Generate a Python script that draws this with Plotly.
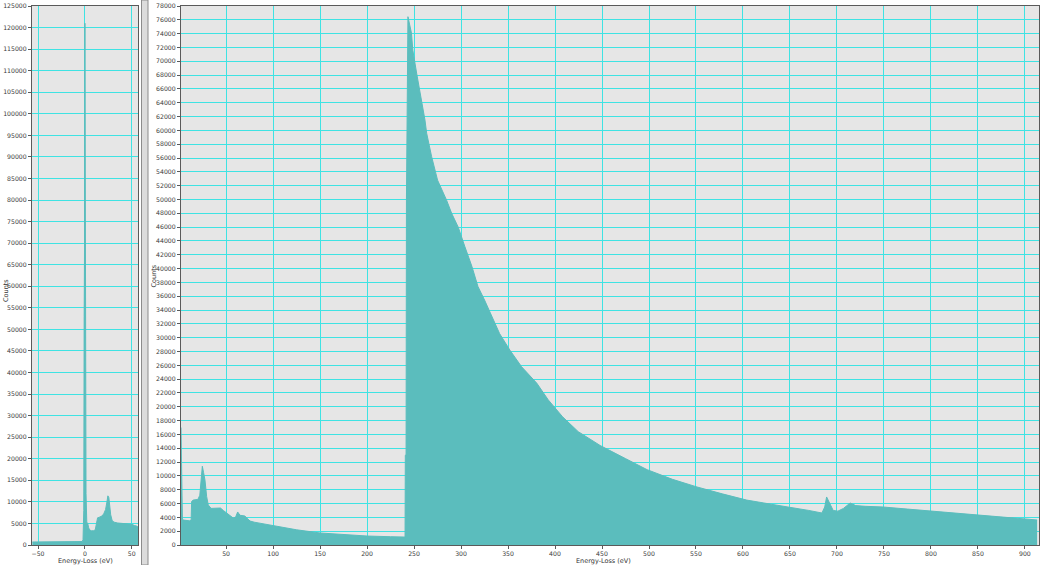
import plotly.graph_objects as go

# ---------------- data ----------------
# Low-loss spectrum (left panel)
low_energy = [-56, -50, -40, -30, -20, -10, -5, -3, -2, -1.2, -0.8, -0.4, 0, 0.4, 0.8, 1.2,
              2, 3, 4, 5, 7, 9, 11, 12.5, 13.5, 15, 18, 20, 22, 23.5, 24.5, 25.5, 26.5,
              27.5, 29, 31, 35, 40, 45, 50, 53, 55, 57]
low_counts = [700, 700, 700, 700, 700, 720, 750, 800, 1200, 8000, 53000, 69000, 121000, 69000, 53000, 12000,
              5300, 5000, 4000, 3500, 3300, 3300, 3500, 5600, 6300, 6400, 6700, 7200, 8200, 10000, 11400, 11000, 9000,
              7000, 5700, 5300, 5100, 5000, 5000, 4800, 4500, 4400, 4100]

# Core-loss spectrum (right panel)
core_energy = [2, 2.8, 3.5, 5, 8, 11, 12.8, 13.3, 15, 18, 20, 22, 23.5, 24.7, 26, 27.5, 29.3, 31,
               34, 38, 42, 44, 47, 50.5, 54, 57.6, 60, 62.3, 64.8, 67, 70, 72, 75.5, 80, 90, 100,
               125, 150, 175, 200, 225, 238.6, 240.4, 240.7, 241.5, 241.9, 242.6, 243.5, 247.2, 248.7,
               252.7, 258, 261.6, 263.4, 268.7, 275, 284.6, 290, 297, 304, 311.6, 318, 325, 341,
               352, 364.4, 380.7, 392.8, 408, 424.7, 448, 475, 498, 525, 551, 578, 604, 630, 650,
               670, 684, 687, 689, 692, 696, 701, 707, 714, 720, 730, 749, 775, 801, 825, 850, 880, 913]
core_counts = [17000, 4300, 3700, 3600, 3500, 3500, 3600, 6300, 6500, 6500, 6600, 7200, 9000, 11400, 10500, 9400, 7000, 5800,
               5300, 5300, 5300, 5350, 5000, 4630, 4200, 3900, 4000, 4780, 4300, 4300, 4200, 3900, 3470, 3300, 3050, 2750,
               2200, 1740, 1500, 1300, 1200, 1150, 1150, 13000, 13000, 50000, 60000, 76450, 74100, 71600,
               68300, 64400, 61500, 59600, 56200, 52800, 49900, 48000, 46000, 43200, 40300, 37400, 35450, 30600,
               28200, 25800, 23400, 21000, 18560, 16400, 14400, 12500, 10900, 9500, 8400, 7400, 6500, 5900, 5500,
               5000, 4630, 5500, 6950, 6000, 5000, 4900, 5300, 6080, 5700, 5600, 5500, 5200, 4920, 4650, 4340, 4000, 3620]

x_title = "Energy-Loss (eV)"
y_title = "Counts"

# ---------------- styling ----------------
W, H = 1050, 565
ML, MR, MT, MB = 32, 11, 6, 20
PW = W - ML - MR
PH = H - MT - MB

def px(xp):
    return (xp - ML) / PW

def py(yp):
    return (H - MB - yp) / PH

FILL = "#5bbdbd"
GRID = "#3fe3e3"
BG = "#e6e6e6"
AXC = "#5a5a5a"
FONT = dict(family="DejaVu Sans", size=6.2, color="#3a3a3a")
TFONT = dict(family="DejaVu Sans", size=6.5, color="#333333")

fig = go.Figure()
fig.add_trace(go.Scatter(x=low_energy, y=low_counts, mode="lines", fill="tozeroy",
                         line=dict(color=FILL, width=1), fillcolor=FILL,
                         xaxis="x", yaxis="y", showlegend=False))
fig.add_trace(go.Scatter(x=core_energy, y=core_counts, mode="lines", fill="tozeroy",
                         line=dict(color=FILL, width=1), fillcolor=FILL,
                         xaxis="x2", yaxis="y2", showlegend=False))

axis_common = dict(showgrid=True, gridcolor=GRID, gridwidth=1, zeroline=False,
                   showline=True, linecolor=AXC, linewidth=1, mirror=True,
                   ticks="outside", ticklen=3, tickcolor=AXC, tickfont=FONT,
                   automargin=False, tickformat="d")

fig.update_layout(
    width=W, height=H,
    margin=dict(l=ML, r=MR, t=MT, b=MB, pad=0, autoexpand=False),
    paper_bgcolor="white",
    plot_bgcolor=BG,
    font=FONT,
    xaxis=dict(domain=[0, px(138)], range=[-56.4, 56.6], tick0=0, dtick=50, anchor="y", **axis_common),
    yaxis=dict(domain=[0, 1], range=[0, 125000], tick0=0, dtick=5000, anchor="x", **axis_common),
    xaxis2=dict(domain=[px(181), 1], range=[2, 915], tick0=0, dtick=50, anchor="y2", **axis_common),
    yaxis2=dict(domain=[0, 1], range=[0, 78000], tick0=0, dtick=2000, anchor="x2", **axis_common),
    shapes=[
        dict(type="rect", xref="paper", yref="paper", x0=px(141.5), x1=px(148), y0=py(565), y1=py(0),
             fillcolor="#dcdcdc", line=dict(color="#8c8c8c", width=1), layer="above"),
    ],
    annotations=[
        dict(text=y_title, xref="paper", yref="paper", x=px(6), y=py(291), textangle=-90,
             showarrow=False, font=TFONT, xanchor="center", yanchor="middle"),
        dict(text=y_title, xref="paper", yref="paper", x=px(153.5), y=py(276), textangle=-90,
             showarrow=False, font=TFONT, xanchor="center", yanchor="middle"),
        dict(text=x_title, xref="paper", yref="paper", x=px(85), y=py(560.5),
             showarrow=False, font=TFONT, xanchor="center", yanchor="middle"),
        dict(text=x_title, xref="paper", yref="paper", x=px(603), y=py(560.5),
             showarrow=False, font=TFONT, xanchor="center", yanchor="middle"),
    ],
)

fig.write_html("out.html", config={"displayModeBar": False},
               post_script="document.body.style.margin='0px';document.body.style.overflow='hidden';")
